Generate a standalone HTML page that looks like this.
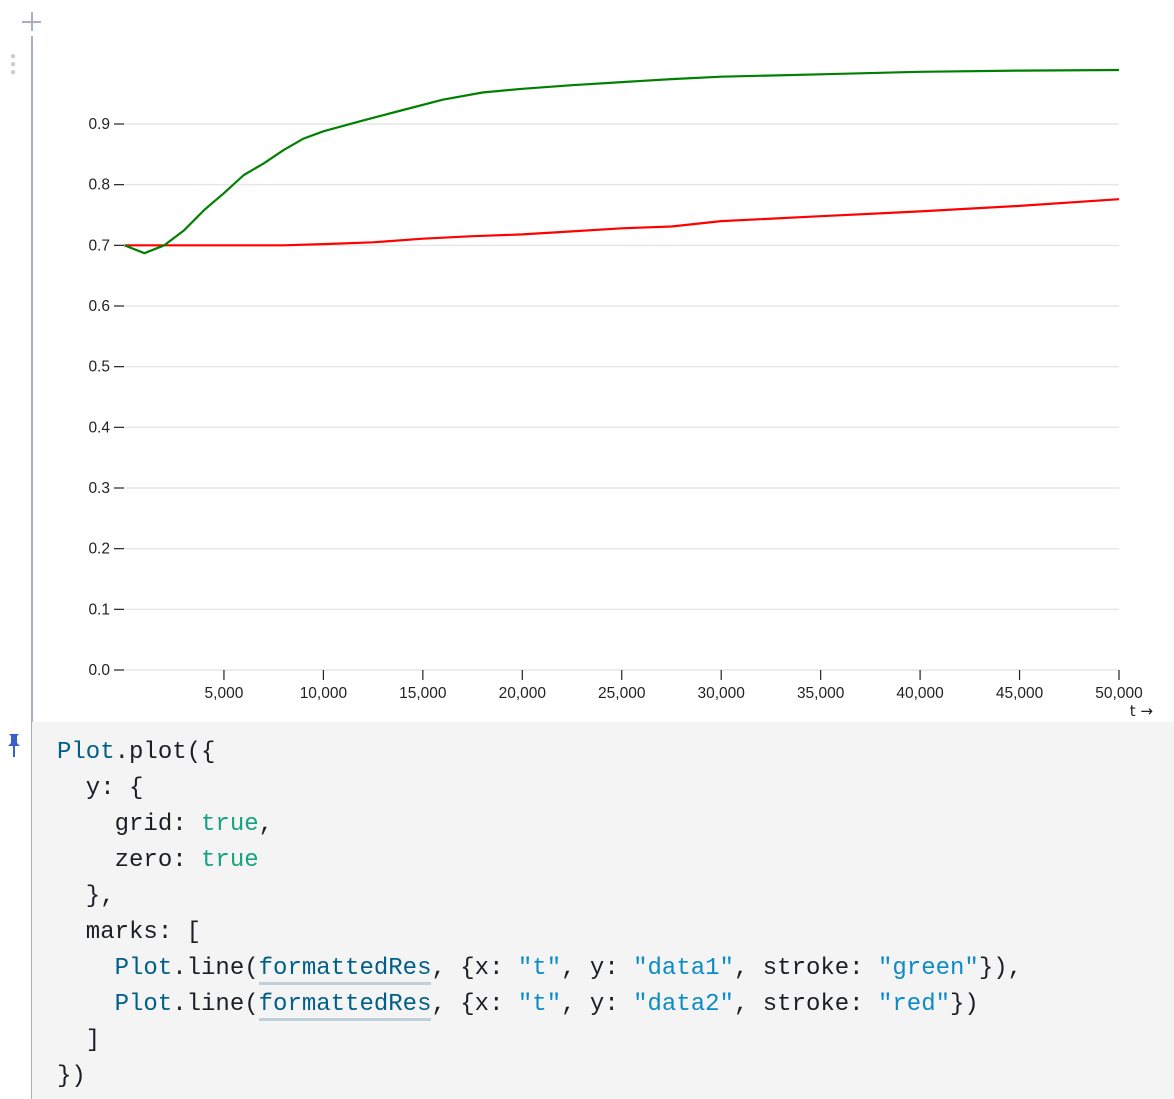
<!DOCTYPE html>
<html><head><meta charset="utf-8"><style>
body{margin:0;width:1174px;height:1099px;background:#fff;position:relative;overflow:hidden;font-family:"Liberation Sans",sans-serif}
.code{position:absolute;left:32px;top:722px;width:1142px;height:377px;background:#f4f4f4;font-family:"Liberation Mono","DejaVu Sans Mono",monospace;font-size:23.6px;color:#1b1e23}
.code pre{margin:0;position:absolute;left:25px;top:13px;font:inherit;font-size:24px;line-height:36px;white-space:pre}
.k{color:#005f87}.s{color:#0b8bc7}.b{color:#16a37f}.u{color:#005f87;border-bottom:3px solid #bfd0da}
</style></head><body>
<div style="position:absolute;left:22px;top:21px;width:19px;height:1.5px;background:#a9b0bd"></div>
<div style="position:absolute;left:31px;top:12px;width:1.5px;height:19px;background:#a9b0bd"></div>
<div style="position:absolute;left:31px;top:36px;width:1.5px;height:1063px;background:#a9b0bd"></div>
<div style="position:absolute;left:10px;top:53px;width:7px;color:#ccc;font-size:10px;line-height:8px">●<br>●<br>●</div>
<svg style="position:absolute;left:0;top:0" width="1174" height="722" id="chart"></svg>
<div class="code">
<pre><span class="k">Plot</span>.plot({
  y: {
    grid: <span class="b">true</span>,
    zero: <span class="b">true</span>
  },
  marks: [
    <span class="k">Plot</span>.line(<span class="u">formattedRes</span>, {x: <span class="s">"t"</span>, y: <span class="s">"data1"</span>, stroke: <span class="s">"green"</span>}),
    <span class="k">Plot</span>.line(<span class="u">formattedRes</span>, {x: <span class="s">"t"</span>, y: <span class="s">"data2"</span>, stroke: <span class="s">"red"</span>})
  ]
})</pre></div>
<svg style="position:absolute;left:6px;top:733px" width="16" height="26"><path d="M3,1H13L11,3V10L14,13H2L5,10V3Z M7,13H9V24H7Z" fill="#3b5fc8"/></svg>
<script>
const tGreen=[0,1000,2000,3000,4000,5000,6000,7000,8000,9000,10000,12000,14000,16000,18000,20000,22500,25000,27500,30000,35000,40000,45000,50000];
const green=[0.7,0.687,0.7,0.725,0.758,0.786,0.816,0.835,0.857,0.876,0.888,0.906,0.923,0.94,0.952,0.958,0.964,0.969,0.974,0.978,0.982,0.986,0.988,0.989];
const tRed=[0,5000,8000,10000,12500,15000,17500,20000,22500,25000,27500,30000,35000,40000,45000,50000];
const red=[0.7,0.7,0.7,0.702,0.705,0.711,0.715,0.718,0.723,0.728,0.731,0.74,0.748,0.756,0.765,0.776];
const yTicks=[0,0.1,0.2,0.3,0.4,0.5,0.6,0.7,0.8,0.9];
const xTicks=[5000,10000,15000,20000,25000,30000,35000,40000,45000,50000];
const NS="http://www.w3.org/2000/svg",svg=document.getElementById('chart');
const X=t=>124.5+t*(1119-124.5)/50000, Y=v=>670-v*(670-124)/0.9;
function mk(tag,a){const e=document.createElementNS(NS,tag);for(const k in a)e.setAttribute(k,a[k]);svg.appendChild(e);return e;}
yTicks.forEach(v=>{
 const g=mk('line',{x1:124.5,x2:1119,y1:Y(v),y2:Y(v),stroke:'#e6e6e6','stroke-width':1.5});
 
 
 const tk=mk('line',{x1:114,x2:124,y1:Y(v),y2:Y(v),stroke:'#222','stroke-width':1.2});
 
 
 const tx=mk('text',{x:110,y:Y(v)+5,'text-anchor':'end','font-size':15.5,fill:'#222','font-family':'Liberation Sans, sans-serif'});
 tx.textContent=v.toFixed(1);
 
 
});
xTicks.forEach(t=>{
 const tk=mk('line',{x1:X(t),x2:X(t),y1:670,y2:680,stroke:'#222','stroke-width':1.2});
 
 
 const tx=mk('text',{x:X(t),y:698,'text-anchor':'middle','font-size':15.5,fill:'#222','font-family':'Liberation Sans, sans-serif'});
 tx.textContent=t.toLocaleString('en-US');
 
 
});
const xt=mk('text',{x:1153,y:716,'text-anchor':'end','font-size':15,fill:'#222','font-family':'DejaVu Sans, sans-serif'});
xt.textContent='t →';


function path(ts,vs,c,name){
 const p=mk('path',{d:ts.map((t,i)=>(i?'L':'M')+X(t).toFixed(1)+','+Y(vs[i]).toFixed(1)).join(''),fill:'none',stroke:c,'stroke-width':2.2,'stroke-linejoin':'round'});
 
 
}
path(tRed,red,'red','series-data2-line');
path(tGreen,green,'green','series-data1-line');
</script>
</body></html>
